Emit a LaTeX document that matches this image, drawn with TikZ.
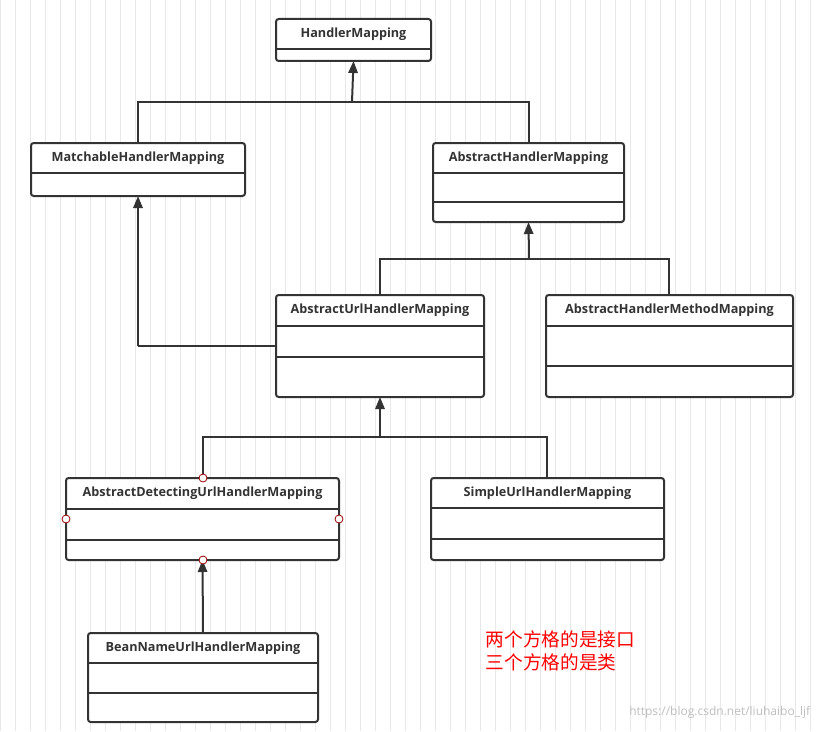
\documentclass[tikz,border=0pt]{standalone}
\usepackage{fontspec}
\setmainfont{Open Sans}
\newfontfamily\cjk{Noto Sans CJK SC}
\usetikzlibrary{arrows.meta}
\tikzset{
  cls/.style={draw=black!80,line width=1.5pt,rounded corners=2pt,fill=white},
  div/.style={draw=black!80,line width=1.5pt},
  lbl/.style={font=\bfseries\fontsize{9.5}{11}\selectfont,text=black!80},
  edge/.style={draw=black!80,line width=1.5pt},
  inh/.style={edge,-{Triangle[length=9pt,width=7pt]}},
  port/.style={circle,draw=red!60!black,fill=white,inner sep=0pt,minimum size=6pt,line width=0.6pt}
}
\newcommand{\umlbox}[6]{% name, x1,y1,x2,y2, label
  \draw[cls] (#2,#3) rectangle (#4,#5);
  \node[lbl] (#1) at ({(#2+#4)/2},#3+15) {#6};
  \coordinate (#1-t) at ({(#2+#4)/2},#3);
  \coordinate (#1-b) at ({(#2+#4)/2},#5);
}
\begin{document}
\begin{tikzpicture}[x=0.75pt,y=-0.75pt]
\useasboundingbox (0,0) rectangle (823,731);
\fill[white] (0,0) rectangle (823,731);
\draw[black!9,line width=0.5pt,step=15] (0,0) grid (823,731);
% connectors
\coordinate (j1) at (352,102);
\coordinate (j2) at (529,259);
\coordinate (j3) at (380,437);
\coordinate (ml) at (138,346);
\draw[edge] (138,143) |- (j1) -| (529,143);
\draw[edge] (380,295) |- (j2) -| (669,295);
\draw[edge] (203,478) |- (j3) -| (547,478);
\draw[edge] (276,346) -- (ml);
% boxes
\umlbox{hm}{276}{19}{431}{61}{HandlerMapping}
\draw[div] (276,49) -- (431,49);
\umlbox{mhm}{31}{143}{245}{196}{MatchableHandlerMapping}
\draw[div] (31,173) -- (245,173);
\umlbox{ahm}{433}{143}{624}{222}{AbstractHandlerMapping}
\draw[div] (433,173) -- (624,173);\draw[div] (433,202) -- (624,202);
\umlbox{auhm}{276}{295}{484}{397}{AbstractUrlHandlerMapping}
\draw[div] (276,326) -- (484,326);\draw[div] (276,357) -- (484,357);
\umlbox{ahmm}{546}{295}{793}{397}{AbstractHandlerMethodMapping}
\draw[div] (546,326) -- (793,326);\draw[div] (546,366) -- (793,366);
\umlbox{aduhm}{66}{478}{339}{560}{AbstractDetectingUrlHandlerMapping}
\draw[div] (66,509) -- (339,509);\draw[div] (66,540) -- (339,540);
\umlbox{suhm}{431}{478}{664}{560}{SimpleUrlHandlerMapping}
\draw[div] (431,508) -- (664,508);\draw[div] (431,539) -- (664,539);
\umlbox{bnuhm}{88}{633}{318}{722}{BeanNameUrlHandlerMapping}
\draw[div] (88,663) -- (318,663);\draw[div] (88,693) -- (318,693);
% arrows
\draw[inh] (j1) -- (hm-b);
\draw[inh] (j2) -- (ahm-b);
\draw[inh] (j3) -- (auhm-b);
\draw[inh] (ml) -- (mhm-b);
\draw[inh] (bnuhm-t) -- (aduhm-b);
% ports
\node[port] at (203,478) {};
\node[port] at (66,519) {};
\node[port] at (339,519) {};
\node[port] at (203,560) {};
% notes
\node[anchor=west,text=red,font=\cjk\fontsize{14}{17}\selectfont,align=left] (note) at (481,651) {两个方格的是接口\\三个方格的是类};
\node[anchor=east,text=black!25,font=\fontsize{9}{10}\selectfont] (wm) at (815,712) {https://blog.csdn.net/liuhaibo\_ljf};
\end{tikzpicture}
\end{document}
